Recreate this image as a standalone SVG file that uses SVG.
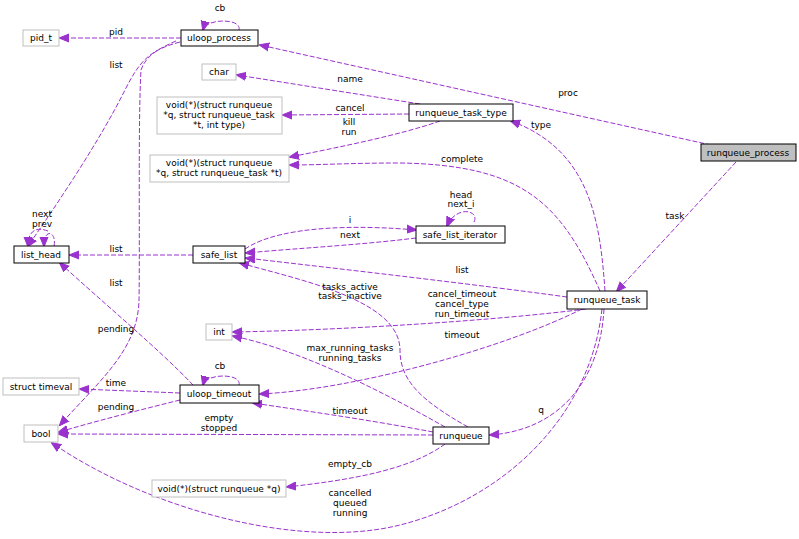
<svg xmlns="http://www.w3.org/2000/svg" width="799" height="539" viewBox="0 0 799 539">
<style>
text{font-family:"DejaVu Sans",sans-serif;font-size:9px;fill:#000;text-anchor:middle}
.n rect{fill:#fff;stroke:#000;stroke-width:1}
.g rect{fill:#fff;stroke:#bfbfbf;stroke-width:1}
.h rect{fill:#bfbfbf;stroke:#000;stroke-width:1}
#edges path{fill:none;stroke:#9a32cd;stroke-dasharray:5,2;stroke-width:1;marker-end:url(#a)}
</style>
<defs><marker id="a" viewBox="0 0 10 10" refX="9" refY="5" markerWidth="10" markerHeight="10" markerUnits="userSpaceOnUse" orient="auto"><path d="M0,1 L10,5 L0,9 Z" fill="#9a32cd" stroke="#9a32cd"/></marker></defs>
<rect width="799" height="539" fill="#fff"/>
<g id="edges">
<path d="M181,38 L60,38"/><text x="116" y="35">pid</text>
<path d="M239,30 C242,18 206,18 203,30"/><text x="220" y="11">cb</text>
<path d="M180,42 C150,50 140,60 125,90 C100,140 60,200 28,246"/><text x="116" y="68">list</text>
<path d="M176,41 C160,48 146,55 141,70 C138,120 140,250 139,300 C138,350 100,380 60,425"/><text x="116" y="332">pending</text>
<path d="M711,145 L260,45"/><text x="568" y="96">proc</text>
<path d="M420,104 L237,75"/><text x="350" y="82">name</text>
<path d="M409,114 L283,115"/><text x="350" y="111">cancel</text>
<path d="M440,121 C400,135 340,147 290,157"/><text x="349" y="125">kill</text><text x="349" y="135">run</text>
<path d="M600,291 C560,200 520,165 400,163 C350,163 320,165 290,165"/><text x="462" y="162">complete</text>
<path d="M605,291 C600,220 590,150 511,121"/><text x="541" y="128">type</text>
<path d="M736,162 L617,291"/><text x="675" y="219">task</text>
<path d="M193,255 L70,255"/><text x="116" y="252">list</text>
<path d="M245,249 C280,225 360,225 416,230"/><text x="350" y="223">i</text>
<path d="M416,238 C360,245 300,248 246,253"/><text x="350" y="238">next</text>
<path d="M474,222 C480,210 456,205 447,226"/><text x="461" y="198">head</text><text x="461" y="207">next_i</text>
<path d="M567,297 C480,285 350,270 246,258"/><text x="462" y="273">list</text>
<path d="M468,427 C420,400 400,380 400,350 C400,300 300,280 240,263"/><text x="350" y="290">tasks_active</text><text x="350" y="299">tasks_inactive</text>
<path d="M586,309 C500,320 350,330 233,332"/><text x="462" y="297">cancel_timeout</text><text x="462" y="307">cancel_type</text><text x="462" y="317">run_timeout</text>
<path d="M582,309 C500,350 350,390 260,394"/><text x="462" y="338">timeout</text>
<path d="M445,427 C380,390 300,350 233,336"/><text x="350" y="351">max_running_tasks</text><text x="350" y="361">running_tasks</text>
<path d="M433,432 C370,420 300,410 253,403"/><text x="350" y="414">timeout</text>
<path d="M433,435 L59,434"/><text x="219" y="421">empty</text><text x="219" y="431">stopped</text>
<path d="M445,444 C410,470 350,480 287,487"/><text x="350" y="467">empty_cb</text>
<path d="M604,309 C600,380 560,430 490,435"/><text x="541" y="413">q</text>
<path d="M602,309 C590,420 500,500 400,525 C300,550 150,510 52,443"/><text x="350" y="496">cancelled</text><text x="350" y="506">queued</text><text x="350" y="516">running</text>
<path d="M193,385 C160,350 100,300 60,263"/><text x="116" y="286">list</text>
<path d="M180,393 L80,389"/><text x="116" y="386">time</text>
<path d="M180,400 C140,410 100,420 59,432"/><text x="116" y="410">pending</text>
<path d="M239,385 C242,373 206,373 203,385"/><text x="220" y="369">cb</text>
<path d="M54,246 C57,232 44,227 44,246"/><path d="M48,231 C35,226 28,232 28,246"/><text x="42" y="217">next</text><text x="42" y="227">prev</text>
</g>
<g id="pid_t" class="g"><rect x="23" y="30" width="36" height="16"/><text x="41" y="41">pid_t</text></g>
<g id="uloop_process" class="n"><rect x="181" y="30" width="77" height="16"/><text x="219" y="41">uloop_process</text></g>
<g id="char" class="g"><rect x="202" y="64" width="34" height="16"/><text x="219" y="75">char</text></g>
<g id="fn_cancel" class="g"><rect x="157" y="97" width="125" height="37"/><text x="219" y="108">void(*)(struct runqueue</text><text x="219" y="118">*q, struct runqueue_task</text><text x="219" y="128">*t, int type)</text></g>
<g id="runqueue_task_type" class="n"><rect x="409" y="104" width="104" height="17"/><text x="461" y="116">runqueue_task_type</text></g>
<g id="fn_complete" class="g"><rect x="150" y="155" width="139" height="27"/><text x="219" y="166">void(*)(struct runqueue</text><text x="219" y="176">*q, struct runqueue_task *t)</text></g>
<g id="runqueue_process" class="h"><rect x="701" y="144" width="95" height="17"/><text x="748" y="156">runqueue_process</text></g>
<g id="list_head" class="n"><rect x="14" y="246" width="55" height="17"/><text x="41" y="258">list_head</text></g>
<g id="safe_list" class="n"><rect x="193" y="246" width="52" height="17"/><text x="219" y="258">safe_list</text></g>
<g id="safe_list_iterator" class="n"><rect x="416" y="226" width="89" height="17"/><text x="460" y="238">safe_list_iterator</text></g>
<g id="runqueue_task" class="n"><rect x="567" y="291" width="80" height="18"/><text x="607" y="303">runqueue_task</text></g>
<g id="int" class="g"><rect x="206" y="324" width="26" height="16"/><text x="219" y="335">int</text></g>
<g id="struct_timeval" class="g"><rect x="3" y="378" width="76" height="17"/><text x="41" y="390">struct timeval</text></g>
<g id="uloop_timeout" class="n"><rect x="180" y="385" width="79" height="18"/><text x="219" y="397">uloop_timeout</text></g>
<g id="bool" class="g"><rect x="24" y="425" width="34" height="17"/><text x="41" y="437">bool</text></g>
<g id="runqueue" class="n"><rect x="433" y="427" width="56" height="17"/><text x="461" y="439">runqueue</text></g>
<g id="fn_q" class="g"><rect x="152" y="480" width="134" height="17"/><text x="219" y="492">void(*)(struct runqueue *q)</text></g>
</svg>
